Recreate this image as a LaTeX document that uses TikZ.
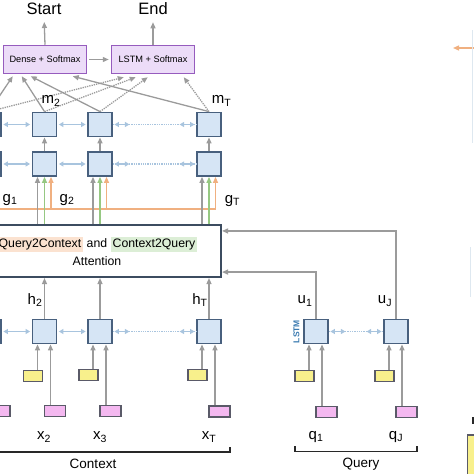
\documentclass[tikz,border=0pt]{standalone}
\usepackage{fontspec}
\setmainfont{Liberation Sans}
\usepackage{tikz}
\usetikzlibrary{calc}
\usetikzlibrary{arrows.meta}
\usetikzlibrary{positioning}
\definecolor{BoxFill}{RGB}{214,229,245}
\definecolor{BoxEdge}{RGB}{72,96,126}
\definecolor{LinkGray}{RGB}{155,155,155}
\definecolor{BiBlue}{RGB}{168,196,222}
\definecolor{PurpleFill}{RGB}{236,220,248}
\definecolor{PurpleEdge}{RGB}{150,92,190}
\definecolor{CharYellow}{RGB}{248,240,140}
\definecolor{WordPink}{RGB}{244,184,240}
\definecolor{InEdge}{RGB}{90,90,104}
\definecolor{PaleOrange}{RGB}{240,176,128}
\definecolor{PaleGreen}{RGB}{150,200,130}
\definecolor{AttEdge}{RGB}{60,76,96}
\definecolor{OrangeHl}{RGB}{251,226,208}
\definecolor{GreenHl}{RGB}{220,238,214}
\definecolor{LstmBlue}{RGB}{58,122,176}
\definecolor{BraceDark}{RGB}{40,40,40}
\definecolor{PanelLine}{RGB}{222,232,240}
\setlength{\fboxsep}{2pt}

\begin{document}
\begin{tikzpicture}[x=1pt,y=1pt,
		cell/.style={draw=BoxEdge, fill=BoxFill, line width=1.8pt, minimum size=24pt, inner sep=0pt},
		outbox/.style={draw=PurpleEdge, fill=PurpleFill, line width=1.5pt, minimum width=83pt, minimum height=28pt, inner sep=0pt, font=\fontsize{9.2}{11}\selectfont},
		charbox/.style={draw=InEdge, fill=CharYellow, line width=1.3pt, minimum width=19pt, minimum height=11pt, inner sep=0pt},
		wordbox/.style={draw=InEdge, fill=WordPink, line width=1.3pt, minimum width=21pt, minimum height=11pt, inner sep=0pt},
		link/.style={draw=LinkGray, line width=1.3pt, -{Triangle[length=6pt,width=5pt]}},
		dotlink/.style={link, densely dotted},
		biarrow/.style={draw=BiBlue, line width=1.6pt, {Triangle[length=4.5pt,width=5pt]}-{Triangle[length=4.5pt,width=5pt]}, shorten <=1.5pt, shorten >=1.5pt},
		bidots/.style={draw=BiBlue, line width=1.3pt, densely dotted},
		lbl/.style={font=\fontsize{15}{18}\selectfont, inner sep=0pt},
		word/.style={font=\fontsize{13.5}{16}\selectfont, inner sep=0pt},
		brace/.style={draw=BraceDark, line width=1.4pt}
	]
		\clip (0,0) rectangle (474,-474);
		
		\node[outbox] (dense) at (45,-59.5) {Dense + Softmax};
		\node[outbox] (lstmout) at (153,-59.5) {LSTM + Softmax};
		\node[word, font=\fontsize{16.5}{20}\selectfont] (start) at (44,-9) {Start};
		\node[word, font=\fontsize{16.5}{20}\selectfont] (end) at (153,-9) {End};
		\draw[link, shorten >=7pt] (dense.north) -- (start.south);
		\draw[link, shorten >=7pt] (lstmout.north) -- (end.south);
		\draw[link, shorten <=2pt, shorten >=2pt] (dense) -- (lstmout);
		
		\node[cell] (upL) at (-11,-124.5) {};
		\node[cell] (up2) at (44.5,-124.5) {};
		\node[cell] (up3) at (100,-124.5) {};
		\node[cell] (upT) at (209,-124.5) {};
		\node[cell] (loL) at (-11,-164) {};
		\node[cell] (lo2) at (44.5,-164) {};
		\node[cell] (lo3) at (100,-164) {};
		\node[cell] (loT) at (209,-164) {};
		\node[cell] (hL) at (-11,-331.5) {};
		\node[cell] (h2) at (44.5,-331.5) {};
		\node[cell] (h3) at (100,-331.5) {};
		\node[cell] (hT) at (209,-331.5) {};
		\node[cell] (u1) at (316,-331.5) {};
		\node[cell] (uJ) at (396,-331.5) {};
		\node[font=\bfseries\fontsize{8.5}{10}\selectfont, text=LstmBlue, rotate=90, inner sep=0pt] (lstmtag) at (296.5,-331.5) {LSTM};
		
		\draw[link] (upL.north) -- ($(dense.south west)+(10,-2)$);
		\draw[link] (up2.north) -- ($(dense.south west)+(19,-2)$);
		\draw[link] (up3.north) -- ($(dense.south west)+(28,-2)$);
		\draw[link] (upT.north) -- ($(dense.south west)+(70,-2)$);
		\draw[dotlink] (upL.north) -- ($(lstmout.south west)+(13,-3)$);
		\draw[dotlink] (up2.north) -- ($(lstmout.south west)+(25,-3)$);
		\draw[dotlink] (up3.north) -- ($(lstmout.south west)+(37,-3)$);
		\draw[dotlink] (upT.north) -- ($(lstmout.south west)+(73,-3)$);
		
		\draw[link] (lo2) -- (up2);
		\draw[link] (lo3) -- (up3);
		\draw[link] (loT) -- (upT);
		
		\draw[biarrow] (upL) -- (up2); \draw[biarrow] (up2) -- (up3);
		\draw[bidots] (up3.east) -- (upT.west);
		\draw[biarrow] (up3.east) -- ++(18,0); \draw[biarrow] (upT.west) -- ++(-18,0);
		\draw[biarrow] (loL) -- (lo2); \draw[biarrow] (lo2) -- (lo3);
		\draw[bidots] (lo3.east) -- (loT.west);
		\draw[biarrow] (lo3.east) -- ++(18,0); \draw[biarrow] (loT.west) -- ++(-18,0);
		\draw[biarrow] (hL) -- (h2); \draw[biarrow] (h2) -- (h3);
		\draw[bidots] (h3.east) -- (hT.west);
		\draw[biarrow] (h3.east) -- ++(18,0); \draw[biarrow] (hT.west) -- ++(-18,0);
		\draw[bidots] (u1.east) -- (uJ.west);
		\draw[biarrow] (u1.east) -- ++(18,0); \draw[biarrow] (uJ.west) -- ++(-18,0);
		
		\node[draw=AttEdge, fill=white, line width=1.6pt, minimum width=248.5pt, minimum height=52.5pt, inner sep=0pt, align=center, font=\fontsize{12.3}{18}\selectfont] (att) at (97,-251)
			{\colorbox{OrangeHl}{Query2Context} and \colorbox{GreenHl}{Context2Query}\\Attention};
		\coordinate (q2c) at (-30,-209);
		
		\draw[draw=PaleOrange, line width=1.3pt] (q2c) -- ($(loT.south |- q2c)+(6.5,0)$);
		\draw[link] ($(lo2.south |- att.north)+(-7,0)$) -- ($(lo2.south)+(-7,0)$);
		\draw[link, draw=PaleGreen] (lo2.south |- att.north) -- (lo2.south);
		\draw[link, draw=PaleOrange] ($(lo2.south |- q2c)+(6.5,0)$) -- ($(lo2.south)+(6.5,0)$);
		\draw[link] ($(lo3.south |- att.north)+(-7,0)$) -- ($(lo3.south)+(-7,0)$);
		\draw[link, draw=PaleGreen] (lo3.south |- att.north) -- (lo3.south);
		\draw[link, draw=PaleOrange] ($(lo3.south |- q2c)+(6.5,0)$) -- ($(lo3.south)+(6.5,0)$);
		\draw[link] ($(loT.south |- att.north)+(-7,0)$) -- ($(loT.south)+(-7,0)$);
		\draw[link, draw=PaleGreen] (loT.south |- att.north) -- (loT.south);
		\draw[link, draw=PaleOrange] ($(loT.south |- q2c)+(6.5,0)$) -- ($(loT.south)+(6.5,0)$);
		
		\draw[link] (h2) -- (h2 |- att.south);
		\draw[link] (h3) -- (h3 |- att.south);
		\draw[link] (hT) -- (hT |- att.south);
		\draw[link] (u1.north) |- ($(att.south east)+(0,6)$);
		\draw[link] (uJ.north) |- ($(att.north east)+(0,-7)$);
		
		\node[charbox] (cA) at (33,-376) {};
		\node[charbox] (cB) at (88.5,-375) {};
		\node[charbox] (cT) at (197.5,-375) {};
		\node[charbox] (c1) at (304.5,-376) {};
		\node[charbox] (cJ) at (384.5,-376) {};
		\node[wordbox] (wL) at (-0.5,-411) {};
		\node[wordbox] (wA) at (55,-411) {};
		\node[wordbox] (wB) at (110.5,-411) {};
		\node[wordbox] (wT) at (219.5,-411.5) {};
		\node[wordbox] (w1) at (326.5,-412) {};
		\node[wordbox] (wJ) at (406.5,-412) {};
		
		\draw[link] ($(cA.north)+(4.5,0)$) -- ($(h2.south)+(-7,0)$);
		\draw[link] ($(wA.north)+(-4.5,0)$) -- ($(h2.south)+(6,0)$);
		\draw[link] ($(cB.north)+(4.5,0)$) -- ($(h3.south)+(-7,0)$);
		\draw[link] ($(wB.north)+(-4.5,0)$) -- ($(h3.south)+(6,0)$);
		\draw[link] ($(cT.north)+(4.5,0)$) -- ($(hT.south)+(-7,0)$);
		\draw[link] ($(wT.north)+(-4.5,0)$) -- ($(hT.south)+(6,0)$);
		\draw[link] ($(c1.north)+(4.5,0)$) -- ($(u1.south)+(-7,0)$);
		\draw[link] ($(w1.north)+(-4.5,0)$) -- ($(u1.south)+(6,0)$);
		\draw[link] ($(cJ.north)+(4.5,0)$) -- ($(uJ.south)+(-7,0)$);
		\draw[link] ($(wJ.north)+(-4.5,0)$) -- ($(uJ.south)+(6,0)$);
		
		\node[lbl] (m2lbl) at (51,-101) {m\textsubscript{2}};
		\node[lbl] (mTlbl) at (221.5,-101) {m\textsubscript{T}};
		\node[lbl] (g1lbl) at (10,-200) {g\textsubscript{1}};
		\node[lbl] (g2lbl) at (67,-200) {g\textsubscript{2}};
		\node[lbl] (gTlbl) at (232.5,-201) {g\textsubscript{T}};
		\node[lbl] (h2lbl) at (35,-300) {h\textsubscript{2}};
		\node[lbl] (hTlbl) at (200,-300) {h\textsubscript{T}};
		\node[lbl] (u1lbl) at (305,-301) {u\textsubscript{1}};
		\node[lbl] (uJlbl) at (385,-301) {u\textsubscript{J}};
		\node[lbl] (x2lbl) at (44,-437) {x\textsubscript{2}};
		\node[lbl] (x3lbl) at (100,-437) {x\textsubscript{3}};
		\node[lbl] (xTlbl) at (209,-437) {x\textsubscript{T}};
		\node[lbl] (q1lbl) at (316,-437) {q\textsubscript{1}};
		\node[lbl] (qJlbl) at (396,-437) {q\textsubscript{J}};
		
		\draw[brace] (-5,-452) -- (230,-452) -- (230,-446.5);
		\draw[brace] (295,-446) -- (295,-451.5) -- (417,-451.5) -- (417,-446);
		\node[word] (ctxlbl) at (93,-463.5) {Context};
		\node[word] (qrylbl) at (361,-464) {Query};
		
		\coordinate (q2cout) at (478,-48);
		\draw[link, draw=PaleOrange] (q2cout) -- ++(-25,0);
		\draw[draw=PanelLine, line width=1pt] (472.5,-30) -- (472.5,-143);
		\draw[draw=PanelLine, line width=0.8pt] (470.5,-247) -- (470.5,-297);
		\draw[draw=InEdge, fill=CharYellow, line width=1.3pt] (467.5,-435) rectangle (482,-480);
		\fill[BraceDark] (471.5,-417) rectangle (476,-424);
	\end{tikzpicture}
\end{document}
